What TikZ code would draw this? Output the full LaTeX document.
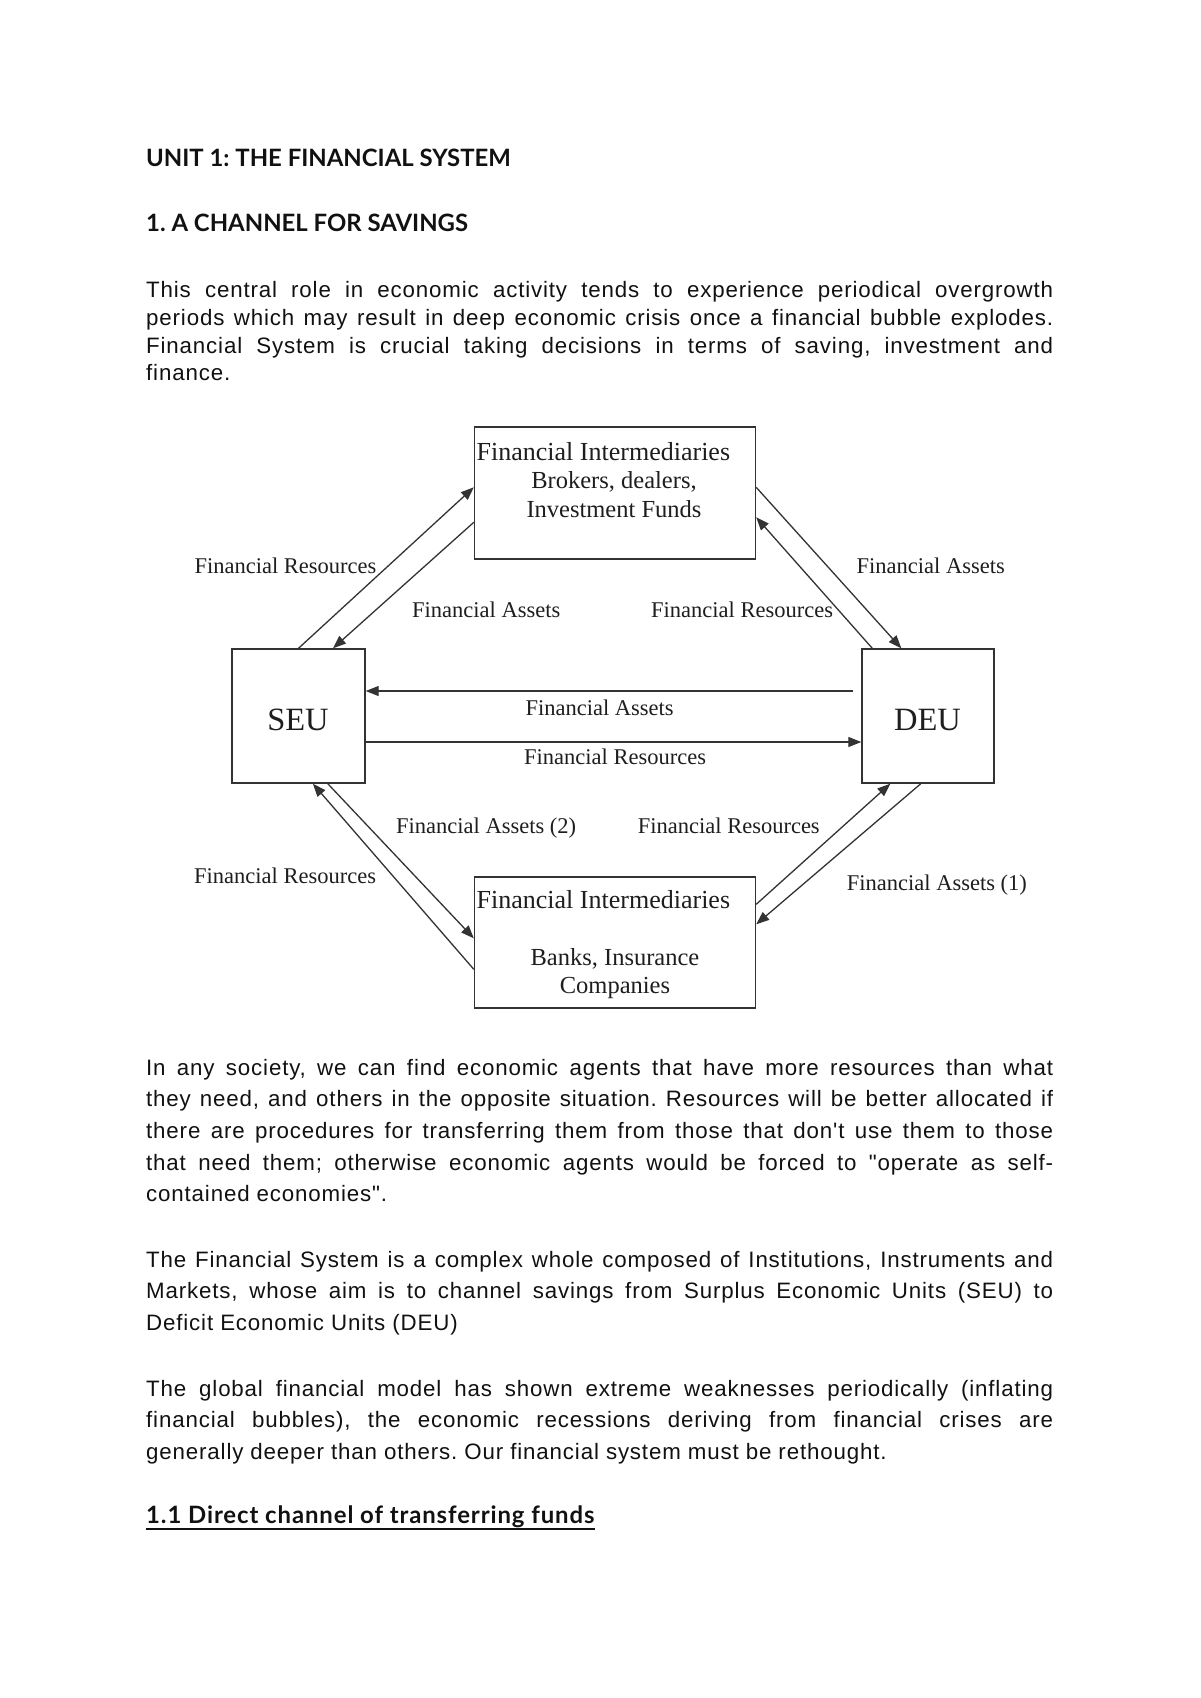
\documentclass[tikz,border=0pt]{standalone}
\usepackage{fontspec}
\usetikzlibrary{arrows.meta,calc}
\newfontfamily\bodyf{Liberation Sans}[LetterSpace=3.8]
\newfontfamily\headf{Lato}
\newfontfamily\headfw{Lato}[LetterSpace=3.8]
\newfontfamily\diagf{Liberation Serif}
\definecolor{linec}{HTML}{333333}
\definecolor{dtext}{HTML}{1E1E1E}
\definecolor{btext}{HTML}{111111}
\frenchspacing
\begin{document}
\frenchspacing
\begin{tikzpicture}[x=1pt,y=-1pt,
  box/.style={draw=linec, line width=1.4pt, inner sep=0pt},
  lbl/.style={font=\diagf\fontsize{22.5}{26}\selectfont, text=dtext, inner sep=0pt, anchor=base west},
  btxt/.style={font=\diagf\fontsize{24.5}{28}\selectfont, text=dtext, inner sep=0pt, anchor=base},
  ttl/.style={font=\diagf\fontsize{26}{30}\selectfont, text=dtext, inner sep=0pt, anchor=base west},
  big/.style={font=\diagf\fontsize{32.5}{36}\selectfont, text=dtext, inner sep=0pt, anchor=base},
  arr/.style={draw=linec, line width=1.3pt, -{Triangle[length=13pt,width=10pt]}},
  body/.style={font=\bodyf\frenchspacing\fontsize{22.3}{27}\selectfont, text=btext, inner sep=0pt, anchor=base west},
  hd/.style={font=\headf\bfseries\fontsize{23.9}{28}\selectfont, text=btext, inner sep=0pt, anchor=base west},
  hdw/.style={font=\headfw\bfseries\fontsize{23.9}{28}\selectfont, text=btext, inner sep=0pt, anchor=base west}]
\fill[white] (0,0) rectangle (1200,1698);
\useasboundingbox (0,0) rectangle (1200,1698);

% headings
\node[hd] (h1) at (146,166) {UNIT 1: THE FINANCIAL SYSTEM};
\node[hd] (h2) at (146,231) {1. A CHANNEL FOR SAVINGS};

% paragraph 1
\node[body] (p1a) at (146,297) {\makebox[907pt][s]{This central role in economic activity tends to experience periodical overgrowth}};
\node[body] (p1b) at (146,325) {\makebox[907pt][s]{periods which may result in deep economic crisis once a financial bubble explodes.}};
\node[body] (p1c) at (146,353) {\makebox[907pt][s]{Financial System is crucial taking decisions in terms of saving, investment and}};
\node[body] (p1d) at (146,380) {finance.};

% boxes
\node[box, minimum width=281pt, minimum height=132pt] (fi1) at (615,493) {};
\node[box, minimum width=133pt, minimum height=134pt] (seu) at (298.5,716) {};
\node[box, minimum width=132pt, minimum height=134pt] (deu) at (928,716) {};
\node[box, minimum width=281pt, minimum height=131pt] (fi2) at (615,942.5) {};

% box texts
\node[ttl] (fi1t) at (476.5,460) {Financial Intermediaries};
\node[btxt] (fi1a) at (614,488) {Brokers, dealers,};
\node[btxt] (fi1b) at (614,517) {Investment Funds};
\node[ttl] (fi2t) at (476.5,908) {Financial Intermediaries};
\node[btxt] (fi2a) at (615,965) {Banks, Insurance};
\node[btxt] (fi2b) at (615,993) {Companies};
\node[big] (seut) at (298,730) {SEU};
\node[big] (deut) at (927.5,730) {DEU};

% arrows
\draw[arr] (seu.north) -- ($(fi1.north west)+(0,61)$);
\draw[arr] ($(fi1.north west)+(0,96)$) -- ($(seu.north)+(34.5,0)$);
\draw[arr] ($(fi1.north east)+(0,61)$) -- ($(deu.north west)+(40,0)$);
\draw[arr] ($(deu.north west)+(11,0)$) -- ($(fi1.north east)+(0,91)$);
\draw[arr] ($(deu.west)+(-8,-25)$) -- ($(seu.east)+(0,-25)$);
\draw[arr] ($(seu.east)+(0,26)$) -- ($(deu.west)+(0,26)$);
\draw[arr] ($(fi2.north west)+(0,93)$) -- ($(seu.south west)+(81.6,0)$);
\draw[arr] ($(seu.south west)+(96.5,0)$) -- ($(fi2.north west)+(0,62)$);
\draw[arr] ($(fi2.north east)+(0,28)$) -- ($(deu.south west)+(29,0)$);
\draw[arr] ($(deu.south west)+(59.5,0)$) -- ($(fi2.north east)+(0,48)$);

% labels
\node[lbl] (l1) at (194.4,573) {Financial Resources};
\node[lbl] (l2) at (412,617) {Financial Assets};
\node[lbl] (l3) at (651,617) {Financial Resources};
\node[lbl] (l4) at (856.5,573) {Financial Assets};
\node[lbl] (l5) at (525.4,715) {Financial Assets};
\node[lbl] (l6) at (524,764) {Financial Resources};
\node[lbl] (l7) at (396,833) {Financial Assets (2)};
\node[lbl] (l8) at (637.7,833) {Financial Resources};
\node[lbl] (l9) at (194,883) {Financial Resources};
\node[lbl] (l10) at (846.7,890) {Financial Assets (1)};

% paragraph 2
\node[body] (p2a) at (146,1075) {\makebox[907pt][s]{In any society, we can find economic agents that have more resources than what}};
\node[body] (p2b) at (146,1106.7) {\makebox[907pt][s]{they need, and others in the opposite situation. Resources will be better allocated if}};
\node[body] (p2c) at (146,1138.3) {\makebox[907pt][s]{there are procedures for transferring them from those that don't use them to those}};
\node[body] (p2d) at (146,1170) {\makebox[907pt][s]{that need them; otherwise economic agents would be forced to "operate as self-}};
\node[body] (p2e) at (146,1201.7) {contained economies".};

% paragraph 3
\node[body] (p3a) at (146,1267) {\makebox[907pt][s]{The Financial System is a complex whole composed of Institutions, Instruments and}};
\node[body] (p3b) at (146,1298.5) {\makebox[907pt][s]{Markets, whose aim is to channel savings from Surplus Economic Units (SEU) to}};
\node[body] (p3c) at (146,1330) {Deficit Economic Units (DEU)};

% paragraph 4
\node[body] (p4a) at (146,1396.5) {\makebox[907pt][s]{The global financial model has shown extreme weaknesses periodically (inflating}};
\node[body] (p4b) at (146,1427.5) {\makebox[907pt][s]{financial bubbles), the economic recessions deriving from financial crises are}};
\node[body] (p4c) at (146,1459) {generally deeper than others. Our financial system must be rethought.};

% sub heading
\node[hdw] (h3) at (146,1523) {1.1 Direct channel of transferring funds};
\draw[btext, line width=1.8pt] ($(h3.base west)+(0,6)$) -- ($(h3.base east)+(0,6)$);
\end{tikzpicture}
\end{document}
